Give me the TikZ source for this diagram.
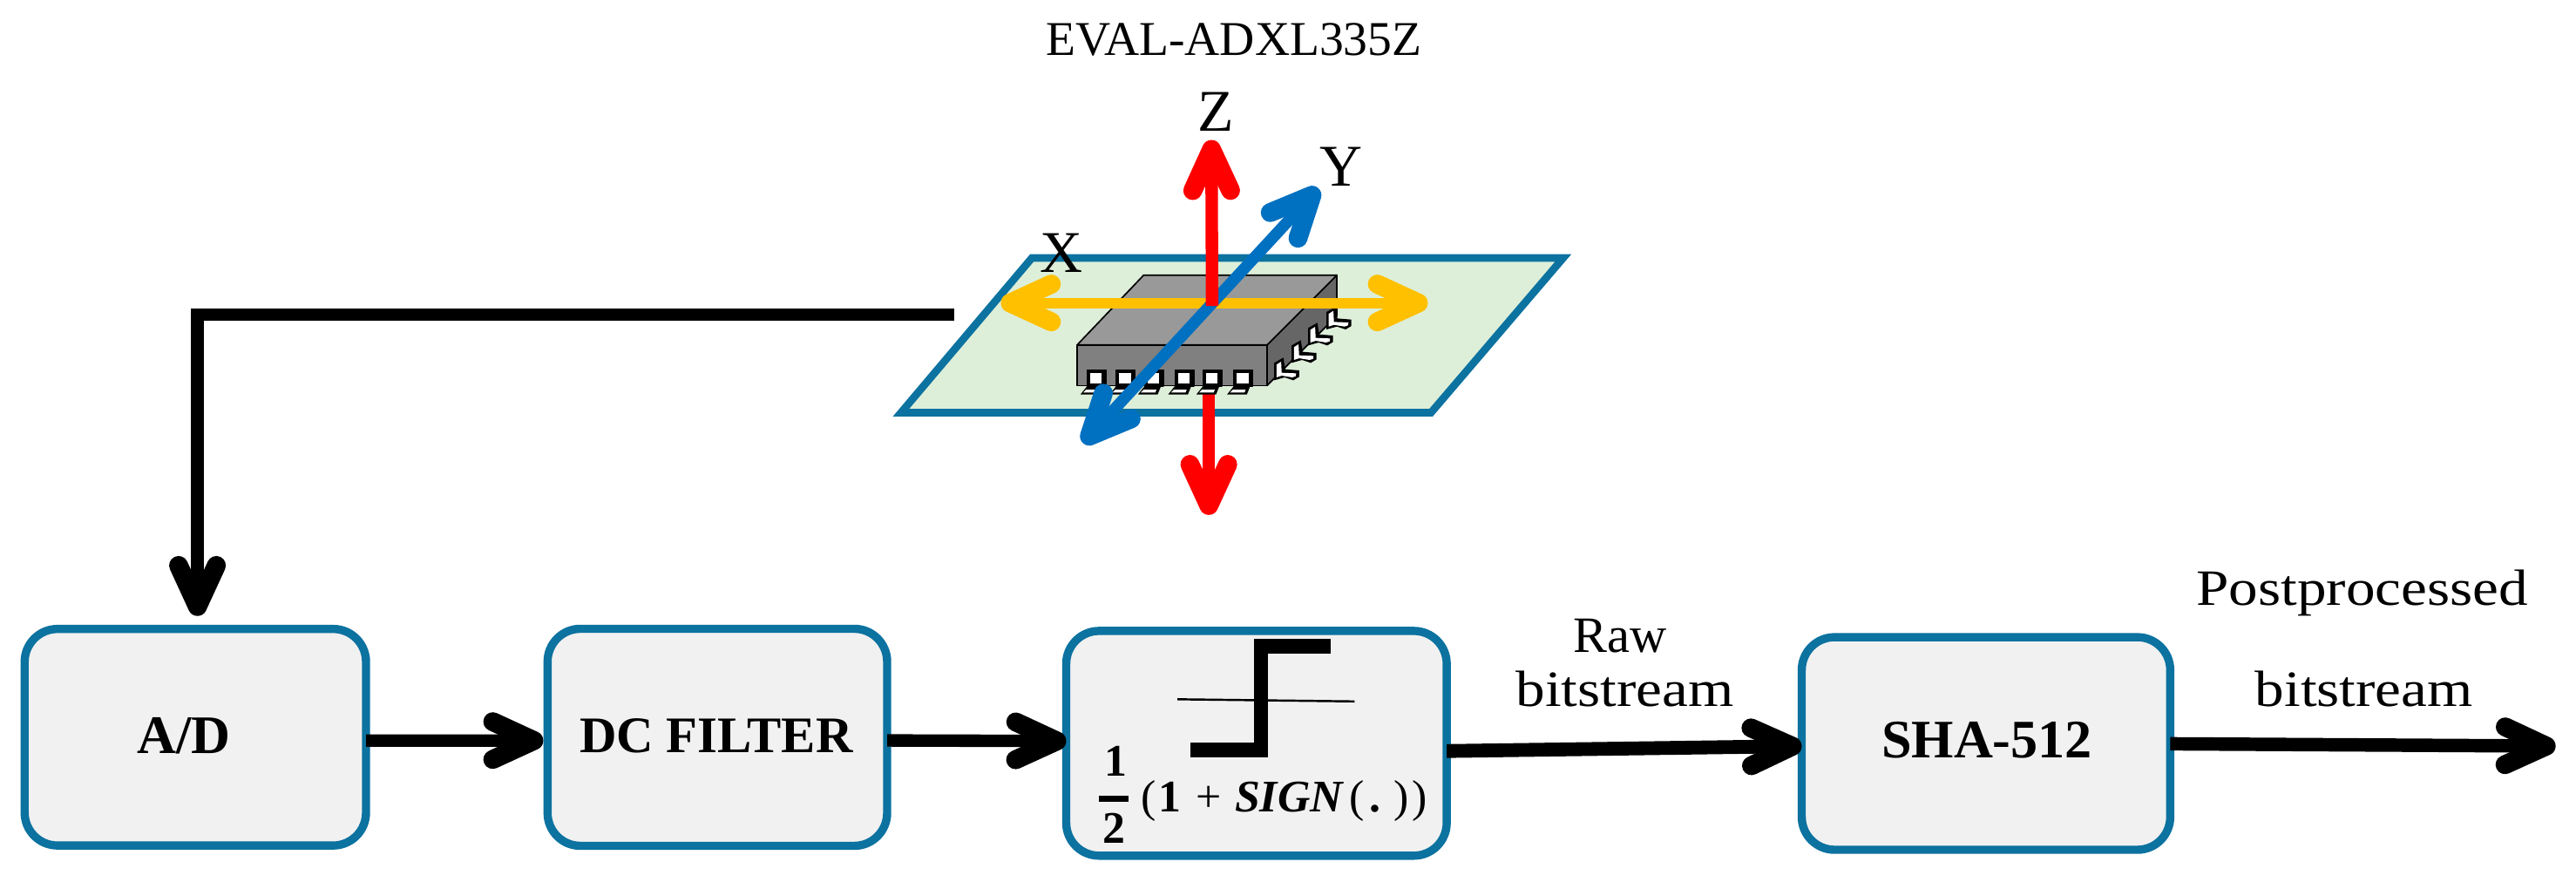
\documentclass[tikz,border=0pt]{standalone}
\usepackage{fontspec}
\setmainfont{Liberation Serif}
\newfontfamily\widef[FakeStretch=1.15]{Liberation Serif}
\usetikzlibrary{arrows.meta}
\definecolor{frameblue}{HTML}{0C72A0}
\definecolor{boxgray}{HTML}{F1F1F1}
\definecolor{plategreen}{HTML}{DDEFD9}
\definecolor{axisyellow}{HTML}{FFC000}
\definecolor{axisblue}{HTML}{0070C0}
\tikzset{
  blockbox/.style={draw=frameblue,fill=boxgray,line width=5pt,rounded corners=20pt,outer sep=0pt,inner sep=0pt},
  blocktext/.style={inner sep=0pt,anchor=base,font=\fontsize{33}{38}\selectfont\bfseries},
  bodytext/.style={inner sep=0pt,anchor=base,font=\fontsize{29.5}{34}\selectfont},
  widetext/.style={inner sep=0pt,anchor=base,font=\fontsize{31}{36}\selectfont\widef},
  axistext/.style={inner sep=0pt,anchor=base,font=\fontsize{36}{40}\selectfont},
  formulatext/.style={inner sep=0pt,font=\fontsize{27.5}{32}\selectfont},
  barbtip/.tip={Straight Barb[round,length=25pt,width=23pt,line width=11.5pt]},
  flow/.style={line width=7.6pt,-{barbtip}},
  axisline/.style={line width=7pt},
  frontpin/.pic={
    \filldraw[fill=black,draw=black] (0,0) rectangle (64,55);
    \fill[white] (10,12) rectangle (50,48);
    \fill[black] (-24,85) -- (0,55) -- (56,55) -- (44,85) -- cycle;
    \fill[white] (-14,78) -- (-4,68) -- (40,68) -- (36,78) -- cycle;
  },
  sidepin/.pic={
    \fill[black] (-4,74) -- (-4,14) -- (28,-4) -- (34,36) -- (82,40) -- (82,62) -- (62,74) -- (32,64) -- cycle;
    \fill[white] (4,64) -- (4,20) -- (20,10) -- (22,48) -- (72,50) -- (70,60) -- (58,64) -- (22,58) -- cycle;
  }
}
\begin{document}
\begin{tikzpicture}[x=1pt,y=-1pt]
\useasboundingbox (0,0) rectangle (1568,536.8);

% plate
\filldraw[draw=frameblue,fill=plategreen,line width=4.6pt,miter limit=10]
  (628.1,157) -- (951.5,157) -- (871,251.2) -- (548.4,251.2) -- cycle;

% lower part of the Z axis
\coordinate (zlow) at (735.8,238);
\coordinate (zlowtip) at (735.8,313.4);
\draw[axisline,red,line width=7.6pt,-{barbtip}] (zlow) -- (zlowtip);

% chip
\begin{scope}[shift={(663.1,159.15)},x=.1768pt,y=-.1768pt,line width=.9pt,line join=round]
  \filldraw[fill=black!60,draw=black] (612,287) -- (852,47) -- (852,187) -- (612,427) -- cycle;
  \foreach \u/\v in {640/335,700/275,757/215,820/160}
    \pic at (\u,\v) {sidepin};
  \filldraw[fill=black!50,draw=black] (-42,287) rectangle (612,427);
  \filldraw[fill=black!40,draw=black] (-42,287) -- (612,287) -- (852,47) -- (187,47) -- cycle;
  \foreach \u in {-7,93,191,295,392,498}
    \pic at (\u,373) {frontpin};
\end{scope}

% axes
\coordinate (xl) at (609.2,184.4);
\coordinate (xr) at (869.1,184.4);
\draw[axisline,axisyellow,line width=6.3pt,{barbtip}-{barbtip}] (xl) -- (xr);
\coordinate (yl) at (659.2,269.7);
\coordinate (yr) at (802.5,114.6);
\draw[axisline,axisblue,{barbtip}-{barbtip}] (yl) -- (yr);
\coordinate (zmid) at (737.8,186.2);
\coordinate (ztip) at (737.4,85.2);
\draw[axisline,red,line width=7.6pt,-{barbtip}] (zmid) -- (ztip);

% texts of the sensor
\node[bodytext] (evalname) at (751,33.5) {EVAL-ADXL335Z};
\node[axistext] (zname) at (739.9,79.9) {Z};
\node[axistext] (yname) at (816.6,113.2) {Y};
\node[axistext] (xname) at (646.3,165.7) {X};

% blocks
\node[blockbox,minimum width=207.8pt,minimum height=131.8pt] (ad) at (118.9,448.7) {};
\node[blockbox,minimum width=206.7pt,minimum height=132.1pt] (dc) at (436.65,448.75) {};
\node[blockbox,minimum width=231.6pt,minimum height=136.8pt] (sign) at (764.8,452.4) {};
\node[blockbox,minimum width=224.3pt,minimum height=129.4pt] (sha) at (1208.85,452.5) {};

\node[blocktext] (adtext) at (112,458.4) {A/D};
\node[blocktext,font=\fontsize{31.2}{36}\selectfont\bfseries] (dctext) at (436,458) {DC FILTER};
\node[blocktext] (shatext) at (1209.4,461.2) {SHA-512};

% threshold symbol in the sign block
\draw[line width=1.3pt] (716.7,425.6) -- (824.5,426.9);
\draw[line width=8.8pt,miter limit=10] (724.5,456.6) -- (767.5,456.6) -- (767.5,393.4) -- (810,393.4);

% formula in the sign block
\node[formulatext,font=\fontsize{27.5}{32}\selectfont\bfseries,anchor=base] (fracone) at (679,472.1) {1};
\node[formulatext,font=\fontsize{27.5}{32}\selectfont\bfseries,anchor=base] (fractwo) at (678.4,513.4) {2};
\draw[line width=3.9pt] (669,486) -- (687,486);
\node[formulatext,anchor=base west] (formula) at (694.6,494.2)
  {(\hspace{1.5pt}\textbf{1}\hspace{9pt}+\hspace{8pt}\textbf{\textit{SIGN}}\hspace{3pt}(\hspace{3pt}\textbf{.}\hspace{8pt})\hspace{2pt})};

% connectors
\coordinate (src) at (580.7,191.6);
\coordinate (outend) at (1555.6,454.1);
\draw[flow,shorten >=7.9pt,line join=miter] (src) -| ([xshift=1.3pt]ad.north);
\draw[flow,shorten >=2.6pt] ([yshift=-2pt]ad.east) -- ([yshift=-2pt]dc.west);
\draw[flow] ([yshift=-1.9pt]dc.east) -- ([yshift=1.4pt]sign.west);
\draw[flow,line width=8.4pt] ([yshift=-4.7pt]sign.east) -- ([yshift=-1.6pt]sha.west);
\draw[flow,line width=8.2pt] ([yshift=-.2pt]sha.east) -- (outend);

% labels
\node[bodytext,font=\fontsize{31}{36}\selectfont] (rawname) at (986,397) {Raw};
\node[widetext] (rawbits) at (989,430) {bitstream};
\node[widetext] (postname) at (1438,368.3) {Postprocessed};
\node[widetext] (postbits) at (1439,430) {bitstream};
\end{tikzpicture}
\end{document}
